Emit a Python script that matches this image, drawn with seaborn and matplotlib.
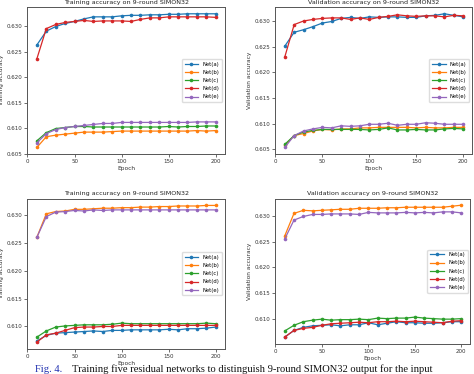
import numpy as np
import pandas as pd
import seaborn as sns
import matplotlib.pyplot as plt

epochs = list(range(10, 201, 10))
nets = ['Net(a)', 'Net(b)', 'Net(c)', 'Net(d)', 'Net(e)']

# training accuracy, first run
train1_a = [0.6263, 0.6290, 0.6299, 0.6305, 0.6309, 0.6314, 0.6318, 0.6318, 0.6318, 0.6320,
            0.6321, 0.6321, 0.6322, 0.6322, 0.6323, 0.6323, 0.6324, 0.6324, 0.6324, 0.6324]
train1_b = [0.6062, 0.6083, 0.6086, 0.6088, 0.6090, 0.6092, 0.6092, 0.6092, 0.6093, 0.6094,
            0.6094, 0.6094, 0.6094, 0.6094, 0.6094, 0.6094, 0.6094, 0.6095, 0.6094, 0.6095]
train1_c = [0.6075, 0.6091, 0.6099, 0.6101, 0.6103, 0.6103, 0.6102, 0.6102, 0.6102, 0.6102,
            0.6102, 0.6102, 0.6102, 0.6102, 0.6103, 0.6102, 0.6103, 0.6103, 0.6104, 0.6104]
train1_d = [0.6236, 0.6295, 0.6303, 0.6307, 0.6309, 0.6311, 0.6309, 0.6310, 0.6310, 0.6310,
            0.6309, 0.6313, 0.6316, 0.6316, 0.6318, 0.6318, 0.6318, 0.6318, 0.6318, 0.6317]
train1_e = [0.6071, 0.6089, 0.6097, 0.6101, 0.6103, 0.6105, 0.6107, 0.6109, 0.6109, 0.6111,
            0.6111, 0.6111, 0.6111, 0.6111, 0.6111, 0.6111, 0.6111, 0.6112, 0.6112, 0.6112]

# validation accuracy, first run
valid1_a = [0.6251, 0.6278, 0.6283, 0.6289, 0.6296, 0.6299, 0.6305, 0.6307, 0.6305, 0.6308,
            0.6307, 0.6308, 0.6308, 0.6307, 0.6307, 0.6310, 0.6311, 0.6314, 0.6311, 0.6308]
valid1_b = [0.6058, 0.6077, 0.6081, 0.6086, 0.6089, 0.6088, 0.6090, 0.6090, 0.6092, 0.6092,
            0.6093, 0.6093, 0.6093, 0.6093, 0.6092, 0.6093, 0.6092, 0.6092, 0.6093, 0.6093]
valid1_c = [0.6060, 0.6077, 0.6084, 0.6087, 0.6089, 0.6089, 0.6089, 0.6089, 0.6089, 0.6088,
            0.6089, 0.6092, 0.6088, 0.6088, 0.6089, 0.6088, 0.6088, 0.6090, 0.6091, 0.6090]
valid1_d = [0.6230, 0.6293, 0.6300, 0.6303, 0.6305, 0.6306, 0.6306, 0.6303, 0.6306, 0.6303,
            0.6307, 0.6309, 0.6312, 0.6310, 0.6309, 0.6310, 0.6310, 0.6308, 0.6311, 0.6310]
valid1_e = [0.6054, 0.6077, 0.6086, 0.6090, 0.6093, 0.6092, 0.6096, 0.6095, 0.6096, 0.6099,
            0.6099, 0.6101, 0.6097, 0.6099, 0.6099, 0.6102, 0.6101, 0.6099, 0.6099, 0.6099]

# training accuracy, second run
train2_a = [0.6074, 0.6084, 0.6088, 0.6089, 0.6090, 0.6091, 0.6092, 0.6091, 0.6093, 0.6093,
            0.6094, 0.6094, 0.6094, 0.6094, 0.6095, 0.6094, 0.6096, 0.6096, 0.6097, 0.6099]
train2_b = [0.6260, 0.6302, 0.6306, 0.6307, 0.6310, 0.6310, 0.6311, 0.6312, 0.6312, 0.6313,
            0.6313, 0.6314, 0.6314, 0.6315, 0.6315, 0.6316, 0.6316, 0.6316, 0.6317, 0.6317]
train2_c = [0.6081, 0.6092, 0.6099, 0.6101, 0.6102, 0.6103, 0.6103, 0.6103, 0.6104, 0.6106,
            0.6105, 0.6105, 0.6105, 0.6105, 0.6105, 0.6105, 0.6105, 0.6105, 0.6106, 0.6105]
train2_d = [0.6072, 0.6085, 0.6088, 0.6093, 0.6098, 0.6099, 0.6099, 0.6100, 0.6100, 0.6102,
            0.6102, 0.6102, 0.6102, 0.6102, 0.6102, 0.6102, 0.6102, 0.6102, 0.6102, 0.6102]
train2_e = [0.6260, 0.6297, 0.6305, 0.6306, 0.6308, 0.6307, 0.6309, 0.6308, 0.6309, 0.6309,
            0.6309, 0.6309, 0.6309, 0.6309, 0.6309, 0.6309, 0.6309, 0.6309, 0.6309, 0.6309]

# validation accuracy, second run
valid2_a = [0.6064, 0.6077, 0.6083, 0.6086, 0.6087, 0.6088, 0.6086, 0.6088, 0.6088, 0.6092,
            0.6088, 0.6091, 0.6094, 0.6092, 0.6092, 0.6091, 0.6091, 0.6092, 0.6094, 0.6094]
valid2_b = [0.6261, 0.6305, 0.6311, 0.6310, 0.6311, 0.6312, 0.6313, 0.6313, 0.6315, 0.6315,
            0.6315, 0.6316, 0.6316, 0.6317, 0.6317, 0.6317, 0.6317, 0.6317, 0.6319, 0.6321]
valid2_c = [0.6076, 0.6087, 0.6094, 0.6097, 0.6099, 0.6097, 0.6098, 0.6098, 0.6099, 0.6098,
            0.6101, 0.6100, 0.6101, 0.6101, 0.6103, 0.6101, 0.6100, 0.6099, 0.6099, 0.6100]
valid2_d = [0.6064, 0.6077, 0.6081, 0.6083, 0.6087, 0.6090, 0.6091, 0.6092, 0.6093, 0.6092,
            0.6094, 0.6094, 0.6095, 0.6094, 0.6095, 0.6094, 0.6093, 0.6092, 0.6095, 0.6096]
valid2_e = [0.6255, 0.6292, 0.6299, 0.6303, 0.6303, 0.6304, 0.6304, 0.6304, 0.6303, 0.6307,
            0.6306, 0.6306, 0.6306, 0.6307, 0.6306, 0.6307, 0.6306, 0.6308, 0.6308, 0.6306]

caption_tag = 'Fig. 4.'
caption_text = 'Training five residual networks to distinguish 9-round SIMON32 output for the input'


def to_long(series):
    rows = []
    for name, vals in zip(nets, series):
        for ep, v in zip(epochs, vals):
            rows.append({'epoch': ep, 'acc': v, 'net': name})
    return pd.DataFrame(rows)


def draw(ax, series, title, ylabel):
    df = to_long(series)
    sns.lineplot(data=df, x='epoch', y='acc', hue='net', hue_order=nets,
                 palette='tab10', marker='o', markersize=2.6, markeredgewidth=0,
                 linewidth=0.9, legend=False, ax=ax)
    ax.set_title(title, fontsize=4.6, pad=2.5, color='#222222')
    ax.set_xlabel('Epoch', fontsize=4.2, labelpad=1.5, color='#333333')
    ax.set_ylabel(ylabel, fontsize=4.2, labelpad=2, color='#333333')
    ax.set_xticks([0, 50, 100, 150, 200])
    ax.tick_params(labelsize=4.0, length=2, width=0.5, pad=1.5, colors='#333333')
    for s in ax.spines.values():
        s.set_linewidth(0.7)
        s.set_color('#555555')
    ax.legend(ax.lines[:5], nets, loc='center right', fontsize=3.8,
              markerscale=1.0, handlelength=2.6, borderpad=0.5,
              labelspacing=0.6, framealpha=1, edgecolor='#dddddd')


fig = plt.figure(figsize=(4.74, 3.74), dpi=100)
ax1 = fig.add_axes([0.058, 0.588, 0.416, 0.393])
ax2 = fig.add_axes([0.581, 0.588, 0.415, 0.393])
ax3 = fig.add_axes([0.058, 0.067, 0.416, 0.402])
ax4 = fig.add_axes([0.581, 0.081, 0.411, 0.388])

draw(ax1, [train1_a, train1_b, train1_c, train1_d, train1_e],
     'Training accuracy on 9-round SIMON32', 'Training accuracy')
draw(ax2, [valid1_a, valid1_b, valid1_c, valid1_d, valid1_e],
     'Validation accuracy on 9-round SIMON32', 'Validation accuracy')
draw(ax3, [train2_a, train2_b, train2_c, train2_d, train2_e],
     'Training accuracy on 9-round SIMON32', 'Training accuracy')
draw(ax4, [valid2_a, valid2_b, valid2_c, valid2_d, valid2_e],
     'Validation accuracy on 9-round SIMON32', 'Validation accuracy')

# caption sits at the very bottom edge, as in the scanned page
fig.text(35 / 474, 0.005, caption_tag, fontsize=7.6, family='Liberation Serif',
         color='#1f2fb0', va='baseline', ha='left')
fig.text(72 / 474, 0.005, caption_text, fontsize=7.6, family='Liberation Serif',
         color='#111111', va='baseline', ha='left')

fig.savefig('out.png', dpi=100)
